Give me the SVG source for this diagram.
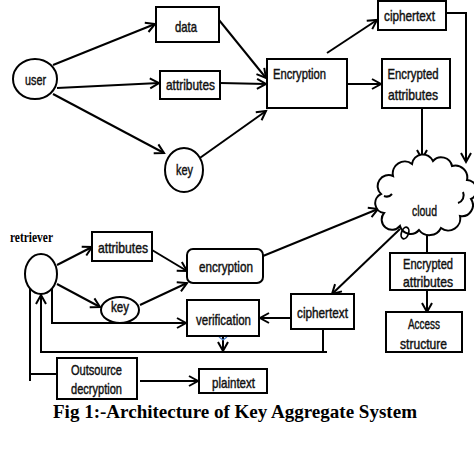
<svg xmlns="http://www.w3.org/2000/svg" width="474" height="452" viewBox="0 0 474 452">
<style>
.box{fill:#fff;stroke:#000;stroke-width:2}
.ln{fill:none;stroke:#000;stroke-width:2}
.t{font-family:"Liberation Sans",Arial,sans-serif;font-size:15px;text-anchor:middle;fill:#111;stroke:#111;stroke-width:0.45}
.s{text-anchor:start}
.cap{font-family:"Liberation Serif","Times New Roman",serif;font-weight:bold;font-size:19px;fill:#000}
</style>
<defs>
<marker id="ar" markerUnits="userSpaceOnUse" markerWidth="12" markerHeight="12" refX="9" refY="5" orient="auto" overflow="visible">
<path d="M0,0 L9,5 L0,10" fill="none" stroke="#000" stroke-width="2"/>
</marker>
</defs>
<rect width="474" height="452" fill="#fff"/>
<g id="connectors" class="ln">
<line x1="53" y1="65" x2="155" y2="24" marker-end="url(#ar)"/>
<line x1="57" y1="88" x2="159" y2="83" marker-end="url(#ar)"/>
<line x1="53" y1="94" x2="164" y2="153" marker-end="url(#ar)"/>
<line x1="219" y1="20" x2="266" y2="78" marker-end="url(#ar)"/>
<line x1="220" y1="83" x2="266" y2="84" marker-end="url(#ar)"/>
<line x1="197" y1="160" x2="266" y2="111" marker-end="url(#ar)"/>
<line x1="327" y1="53" x2="377" y2="20" marker-end="url(#ar)"/>
<line x1="347" y1="84" x2="381" y2="84" marker-end="url(#ar)"/>
<line x1="422" y1="108" x2="422" y2="159" marker-end="url(#ar)"/>
<polyline points="446,13 466,13 466,162" marker-end="url(#ar)"/>
<line x1="263" y1="256" x2="378" y2="209" marker-end="url(#ar)"/>
<line x1="400" y1="229" x2="332" y2="294" marker-end="url(#ar)"/>
<line x1="427" y1="231" x2="427" y2="253"/>
<line x1="427" y1="290" x2="427" y2="312" marker-end="url(#ar)"/>
<line x1="57" y1="265" x2="92" y2="247" marker-end="url(#ar)"/>
<line x1="152" y1="250" x2="187" y2="271" marker-end="url(#ar)"/>
<line x1="57" y1="284" x2="100" y2="307" marker-end="url(#ar)"/>
<line x1="140" y1="305" x2="187" y2="283" marker-end="url(#ar)"/>
<polyline points="52,288 52,323 186,323" marker-end="url(#ar)"/>
<line x1="291" y1="318" x2="260" y2="318" marker-end="url(#ar)"/>
<line x1="223" y1="337" x2="223" y2="351" marker-end="url(#ar)"/>
<polyline points="323,329 323,352 41,352 41,295" marker-end="url(#ar)"/>
<line x1="323" y1="352" x2="327" y2="352"/>
<polyline points="30,288 30,381"/>
<line x1="30" y1="374" x2="57" y2="374"/>
<line x1="140" y1="381" x2="198" y2="381" marker-end="url(#ar)"/>
<path d="M219,337 L223,340 L227,337" stroke="#4a7cc4" stroke-width="1.2"/>
</g>
<g id="user"><ellipse class="box" cx="35" cy="79" rx="22" ry="20"/><text class="t" x="35.5" y="85" textLength="21" lengthAdjust="spacingAndGlyphs">user</text></g>
<g id="data"><rect class="box" x="156" y="7" width="63" height="35"/><text class="t" x="186" y="32" textLength="22" lengthAdjust="spacingAndGlyphs">data</text></g>
<g id="attributes-top"><rect class="box" x="160" y="71" width="60" height="28"/><text class="t" x="190.5" y="90" textLength="49" lengthAdjust="spacingAndGlyphs">attributes</text></g>
<g id="key-top"><ellipse class="box" cx="184" cy="170" rx="19" ry="22"/><text class="t" x="184.5" y="175" textLength="17" lengthAdjust="spacingAndGlyphs">key</text></g>
<g id="encryption-top"><rect class="box" x="267" y="59" width="80" height="49"/><text class="t s" x="273" y="79" textLength="53" lengthAdjust="spacingAndGlyphs">Encryption</text></g>
<g id="ciphertext-top"><rect class="box" x="378" y="1" width="68" height="29"/><text class="t" x="409.5" y="21" textLength="51" lengthAdjust="spacingAndGlyphs">ciphertext</text></g>
<g id="enc-attr-top"><rect class="box" x="382" y="59" width="68" height="49"/><text class="t" x="413" y="79" textLength="51" lengthAdjust="spacingAndGlyphs">Encrypted</text><text class="t" x="413" y="100" textLength="50" lengthAdjust="spacingAndGlyphs">attributes</text></g>
<g id="cloud">
<path class="box" d="M400,226 A10,10 0 0 1 384,213 A10,10 0 0 1 381,194 A11,11 0 0 1 393,176 A12,12 0 0 1 412,164 A11,11 0 0 1 433,161 A11,11 0 0 1 452,166 A12,12 0 0 1 467,180 A10,10 0 0 1 471,199 A11,11 0 0 1 460,216 A12,12 0 0 1 441,228 A13,13 0 0 1 419,230 A11,11 0 0 1 400,226 Z"/>
<path class="ln" d="M458,203 A8,8 0 0 0 463,192 M384,196 A7,7 0 0 0 392,194" stroke-width="1.5"/>
<ellipse cx="405" cy="233" rx="3.5" ry="6" fill="none" stroke="#000" stroke-width="1.8" transform="rotate(20 405 233)"/>
<text class="t" x="424.5" y="216" textLength="25" lengthAdjust="spacingAndGlyphs">cloud</text>
</g>
<g id="retriever"><text class="cap" x="10" y="242" textLength="43" lengthAdjust="spacingAndGlyphs" style="font-size:15px">retriever</text><ellipse class="box" cx="41" cy="274" rx="16" ry="20"/></g>
<g id="attributes-low"><rect class="box" x="92" y="232" width="60" height="29"/><text class="t" x="123" y="253" textLength="50" lengthAdjust="spacingAndGlyphs">attributes</text></g>
<g id="key-low"><ellipse class="box" cx="120" cy="310" rx="19" ry="13"/><text class="t" x="120" y="312" textLength="18" lengthAdjust="spacingAndGlyphs">key</text></g>
<g id="encryption-low"><rect class="box" x="187" y="249" width="76" height="34" rx="6"/><text class="t" x="226" y="272" textLength="54" lengthAdjust="spacingAndGlyphs">encryption</text></g>
<g id="verification"><rect class="box" x="187" y="300" width="72" height="36"/><text class="t" x="223.5" y="325" textLength="55" lengthAdjust="spacingAndGlyphs">verification</text></g>
<g id="ciphertext-low"><rect class="box" x="291" y="294" width="63" height="35"/><text class="t" x="322.5" y="318" textLength="51" lengthAdjust="spacingAndGlyphs">ciphertext</text></g>
<g id="enc-attr-low"><rect class="box" x="390" y="253" width="75" height="37"/><text class="t" x="428" y="269" textLength="50" lengthAdjust="spacingAndGlyphs">Encrypted</text><text class="t" x="428" y="287" textLength="50" lengthAdjust="spacingAndGlyphs">attributes</text></g>
<g id="access"><rect class="box" x="386" y="312" width="76" height="40"/><text class="t" x="424" y="329" textLength="32" lengthAdjust="spacingAndGlyphs">Access</text><text class="t" x="423.5" y="349" textLength="47" lengthAdjust="spacingAndGlyphs">structure</text></g>
<g id="outsource"><rect class="box" x="57" y="358" width="80" height="41"/><text class="t" x="96.5" y="375" textLength="51" lengthAdjust="spacingAndGlyphs">Outsource</text><text class="t" x="96.5" y="394" textLength="51" lengthAdjust="spacingAndGlyphs">decryption</text></g>
<g id="plaintext"><rect class="box" x="199" y="369" width="68" height="24"/><text class="t" x="233.5" y="388" textLength="43" lengthAdjust="spacingAndGlyphs">plaintext</text></g>
<text class="cap" x="53" y="418" textLength="364" lengthAdjust="spacingAndGlyphs">Fig 1:-Architecture of Key Aggregate System</text>
</svg>
